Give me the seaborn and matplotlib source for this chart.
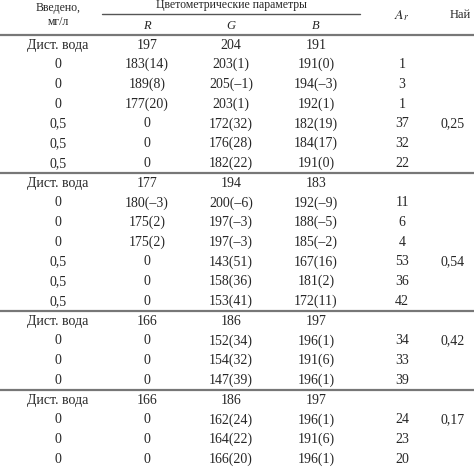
import matplotlib
matplotlib.use("Agg")
import matplotlib.pyplot as plt
import seaborn as sns

# ---- table data ----
introduced = ["Дист. вода", "0", "0", "0", "0,5", "0,5", "0,5",
              "Дист. вода", "0", "0", "0", "0,5", "0,5", "0,5",
              "Дист. вода", "0", "0", "0",
              "Дист. вода", "0", "0", "0"]
r_vals = ["197", "183(14)", "189(8)", "177(20)", "0", "0", "0",
          "177", "180(–3)", "175(2)", "175(2)", "0", "0", "0",
          "166", "0", "0", "0",
          "166", "0", "0", "0"]
g_vals = ["204", "203(1)", "205(–1)", "203(1)", "172(32)", "176(28)", "182(22)",
          "194", "200(–6)", "197(–3)", "197(–3)", "143(51)", "158(36)", "153(41)",
          "186", "152(34)", "154(32)", "147(39)",
          "186", "162(24)", "164(22)", "166(20)"]
b_vals = ["191", "191(0)", "194(–3)", "192(1)", "182(19)", "184(17)", "191(0)",
          "183", "192(–9)", "188(–5)", "185(–2)", "167(16)", "181(2)", "172(11)",
          "197", "196(1)", "191(6)", "196(1)",
          "197", "196(1)", "191(6)", "196(1)"]
ar_vals = ["", "1", "3", "1", "37", "32", "22",
           "", "11", "6", "4", "53", "36", "42",
           "", "34", "33", "39",
           "", "24", "23", "20"]
found = {4: "0,25", 11: "0,54", 15: "0,42", 19: "0,17"}
block_starts = [7, 14, 18]

sns.set_theme(style="white")
plt.rcParams["font.family"] = ["Liberation Serif", "DejaVu Serif"]
plt.rcParams["mathtext.fontset"] = "stix"

fig = plt.figure(figsize=(4.74, 4.74), dpi=100)
ax = fig.add_axes([0, 0, 1, 1])
ax.set_xlim(0, 474)
ax.set_ylim(474, 0)
ax.axis("off")

tc = "#262626"
fs = 10
cols = [58, 147, 231, 316, 402]

# header
ax.text(58, 8, "Введено,", ha="center", va="center", fontsize=8.5, color=tc)
ax.text(58, 22, "мг/л", ha="center", va="center", fontsize=8.5, color=tc)
ax.text(231, 5, "Цветометрические параметры", ha="center", va="center", fontsize=8.5, color=tc)
ax.plot([102, 360], [14, 14], color="#555555", lw=1)
for x, lab in zip(cols[1:4], ["R", "G", "B"]):
    ax.text(x, 26, lab, ha="center", va="center", fontsize=9, style="italic", color=tc)
ax.text(402, 16, "$A_r$", ha="center", va="center", fontsize=10, color=tc)
ax.text(450, 15, "Най", ha="left", va="center", fontsize=9, color=tc)
ax.plot([0, 474], [34.5, 34.5], color="#777777", lw=1.6)

# rows
y = 45
for i in range(len(introduced)):
    if i in block_starts:
        ax.plot([0, 474], [y - 10, y - 10], color="#777777", lw=1.6)
    for x, txt in zip(cols, [introduced[i], r_vals[i], g_vals[i], b_vals[i], ar_vals[i]]):
        ax.text(x, y, txt, ha="center", va="center", fontsize=fs, color=tc)
    if i in found:
        ax.text(441, y, found[i], ha="left", va="center", fontsize=fs, color=tc)
    y += 19.7 if i not in (6, 13, 17) else 19.9

fig.savefig("out.png", dpi=100)
